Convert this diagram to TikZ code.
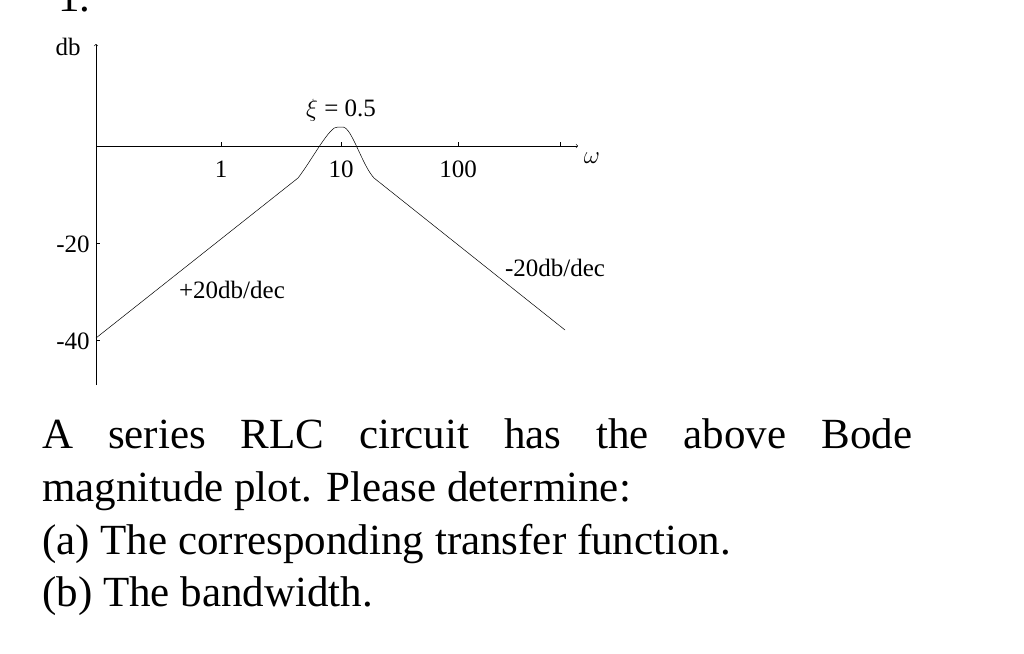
\documentclass[tikz,border=0pt]{standalone}
\usepackage{fontspec}
\setmainfont{Liberation Serif}
\begin{document}
\begin{tikzpicture}[x=1pt,y=-1pt,
  lbl/.style={font=\fontsize{25}{28}\selectfont, inner sep=0pt},
  big/.style={font=\fontsize{43}{53}\selectfont, inner sep=0pt, anchor=north west}]
\useasboundingbox (0,0) rectangle (1024,653);
\node[big, anchor=base west] (num) at (58,12) {1.};
% axes
\draw[->, line width=0.6pt] (96,385) -- (96,44);
\draw[->, line width=0.6pt] (96,146) -- (578,146);
\foreach \x in {221,341,458,560} \draw[line width=0.5pt] (\x,146) -- (\x,142);
\foreach \y in {243,340} \draw[line width=0.5pt] (96,\y) -- (100,\y);
\node[lbl] (t1) at (221,169) {1};
\node[lbl] (t10) at (341,169) {10};
\node[lbl] (t100) at (458,169) {100};
\node[lbl] (om) at (592,158) {$\omega$};
\node[lbl] (db) at (68,47) {db};
\node[lbl] (m20) at (73,244) {-20};
\node[lbl] (m40) at (73,341) {-40};
\node[lbl] (xi) at (341,110) {$\xi$ = 0.5};
\node[lbl] (p20) at (232,290) {+20db/dec};
\node[lbl] (n20) at (555,268) {-20db/dec};
% curve
\draw[line width=0.5pt] (96,338) -- (298,178) .. controls (312,160) and (330,125) .. (338,127)
  -- (343,127) .. controls (352,128) and (362,165) .. (374,178) -- (565,330);
% text
\node[big, text width=870pt, align=justify] (para) at (42,418) {A series RLC circuit has the above Bode\linebreak magnitude plot. Please determine:};
\node[big] (qa) at (42,524) {(a) The corresponding transfer function.};
\node[big] (qb) at (42,576) {(b) The bandwidth.};
\end{tikzpicture}
\end{document}
